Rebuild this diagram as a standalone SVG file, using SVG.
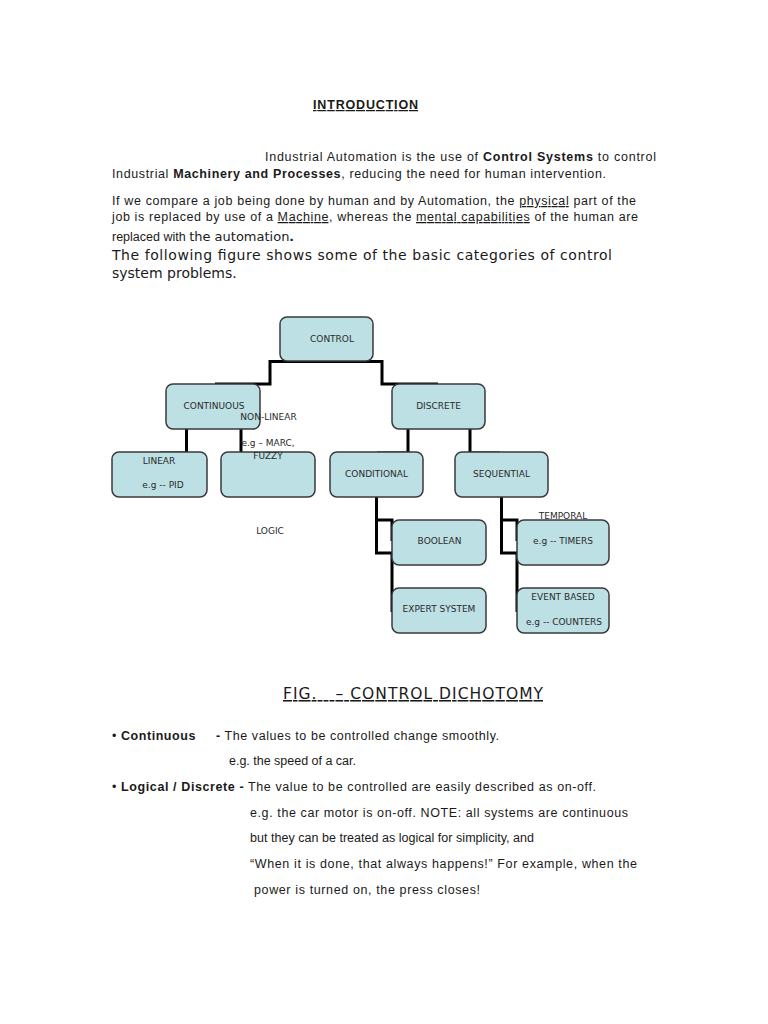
<svg xmlns="http://www.w3.org/2000/svg" width="768" height="1024" viewBox="0 0 768 1024">
<style>
.bg{fill:#ffffff}
.t{font-family:"Liberation Sans",Arial,sans-serif;font-size:12.5px;fill:#1a1a1a}
.b{font-weight:bold}
.u{text-decoration:underline}
.d{font-family:"DejaVu Sans",Verdana,sans-serif;fill:#1a1a1a}
.box rect{fill:#bde0e4;stroke:#3a3a3a;stroke-width:1.5}
.box text,.lbl{font-family:"DejaVu Sans",Verdana,sans-serif;font-size:9px;fill:#2a2a2a;text-anchor:middle}
.conn path{fill:none;stroke:#000;stroke-width:3}
</style>
<rect class="bg" width="768" height="1024"/>

<text class="t b u" x="313" y="109" font-size="12.5" textLength="105" lengthAdjust="spacing">INTRODUCTION</text>
<text class="t" x="265" y="161" textLength="391" lengthAdjust="spacing">Industrial Automation is the use of <tspan class="b">Control Systems</tspan> to control</text>
<text class="t" x="112" y="178" textLength="494" lengthAdjust="spacing">Industrial <tspan class="b">Machinery and Processes</tspan>, reducing the need for human intervention.</text>
<text class="t" x="112" y="205" textLength="524" lengthAdjust="spacing">If we compare a job being done by human and by Automation, the <tspan class="u">physical</tspan> part of the</text>
<text class="t" x="112" y="221" textLength="526" lengthAdjust="spacing">job is replaced by use of a <tspan class="u">Machine</tspan>, whereas the <tspan class="u">mental capabilities</tspan> of the human are</text>
<text class="t" x="112" y="241">replaced with <tspan class="d" font-size="13">the automation</tspan><tspan class="b" font-size="15">.</tspan></text>
<text class="d" x="112" y="260" font-size="14" textLength="500" lengthAdjust="spacing">The following figure shows some of the basic categories of control</text>
<text class="d" x="112" y="278" font-size="14">system problems.</text>

<g class="conn" id="connectors">
<path d="M215,384 H270 V361.5 H382 V384 H438"/>
<path d="M186.5,429 V453 H160"/>
<path d="M241,429 V453"/>
<path d="M408,429 V453 H377"/>
<path d="M470,429 V453 H500"/>
<path d="M376.5,497 V553 H392 V612 M376.5,520 H392 V541"/>
<path d="M501.5,497 V553 H517 V612 M501.5,520 H517 V541"/>
</g>

<g class="box" id="n-control"><rect x="280" y="317" width="93" height="44" rx="7"/><text x="332" y="342">CONTROL</text></g>
<g class="box" id="n-continuous"><rect x="166" y="384" width="94" height="45" rx="7"/><text x="214" y="409">CONTINUOUS</text></g>
<g class="box" id="n-discrete"><rect x="392" y="384" width="93" height="45" rx="7"/><text x="438.5" y="409">DISCRETE</text></g>
<g class="box" id="n-linear"><rect x="112" y="452" width="95" height="45" rx="7"/><text x="159" y="464">LINEAR</text><text x="163" y="488">e.g -- PID</text></g>
<g class="box" id="n-nonlinear"><rect x="221" y="452" width="94" height="45" rx="7"/></g>
<g class="box" id="n-conditional"><rect x="330" y="452" width="93" height="45" rx="7"/><text x="376.5" y="477">CONDITIONAL</text></g>
<g class="box" id="n-sequential"><rect x="455" y="452" width="93" height="45" rx="7"/><text x="501.5" y="477">SEQUENTIAL</text></g>
<g class="box" id="n-boolean"><rect x="392" y="520" width="94" height="45" rx="7"/><text x="439.5" y="544">BOOLEAN</text></g>
<g class="box" id="n-expert"><rect x="392" y="588" width="94" height="45" rx="7"/><text x="439" y="612">EXPERT SYSTEM</text></g>
<g class="box" id="n-timers"><rect x="517" y="520" width="92" height="45" rx="7"/><text x="563" y="544">e.g -- TIMERS</text></g>
<g class="box" id="n-event"><rect x="517" y="588" width="92" height="45" rx="7"/><text x="563" y="600">EVENT BASED</text><text x="564" y="625">e.g -- COUNTERS</text></g>

<g id="nonlinear-labels">
<text class="lbl" x="268.5" y="420">NON-LINEAR</text>
<text class="lbl" x="268" y="446">e.g – MARC,</text>
<text class="lbl" x="268" y="459">FUZZY</text>
<text class="lbl" x="270" y="534">LOGIC</text>
<text class="lbl" x="563" y="519">TEMPORAL</text>
</g>

<text class="d u" x="283" y="699" font-size="15.5" textLength="260" lengthAdjust="spacing" xml:space="preserve">FIG.   – CONTROL DICHOTOMY</text>

<text class="t" x="112" y="740" xml:space="preserve" textLength="387" lengthAdjust="spacing">• <tspan class="b">Continuous</tspan>     <tspan class="b">-</tspan> The values to be controlled change smoothly.</text>
<text class="t" x="229" y="765" textLength="127" lengthAdjust="spacing">e.g. the speed of a car.</text>
<text class="t" x="112" y="791" textLength="484" lengthAdjust="spacing">• <tspan class="b">Logical / Discrete -</tspan> The value to be controlled are easily described as on-off.</text>
<text class="t" x="250" y="817" textLength="378" lengthAdjust="spacing">e.g. the car motor is on-off. NOTE: all systems are continuous</text>
<text class="t" x="250" y="842" textLength="284" lengthAdjust="spacing">but they can be treated as logical for simplicity, and</text>
<text class="t" x="250" y="868" textLength="387" lengthAdjust="spacing">“When it is done, that always happens!” For example, when the</text>
<text class="t" x="254" y="894" textLength="226" lengthAdjust="spacing">power is turned on, the press closes!</text>
</svg>
